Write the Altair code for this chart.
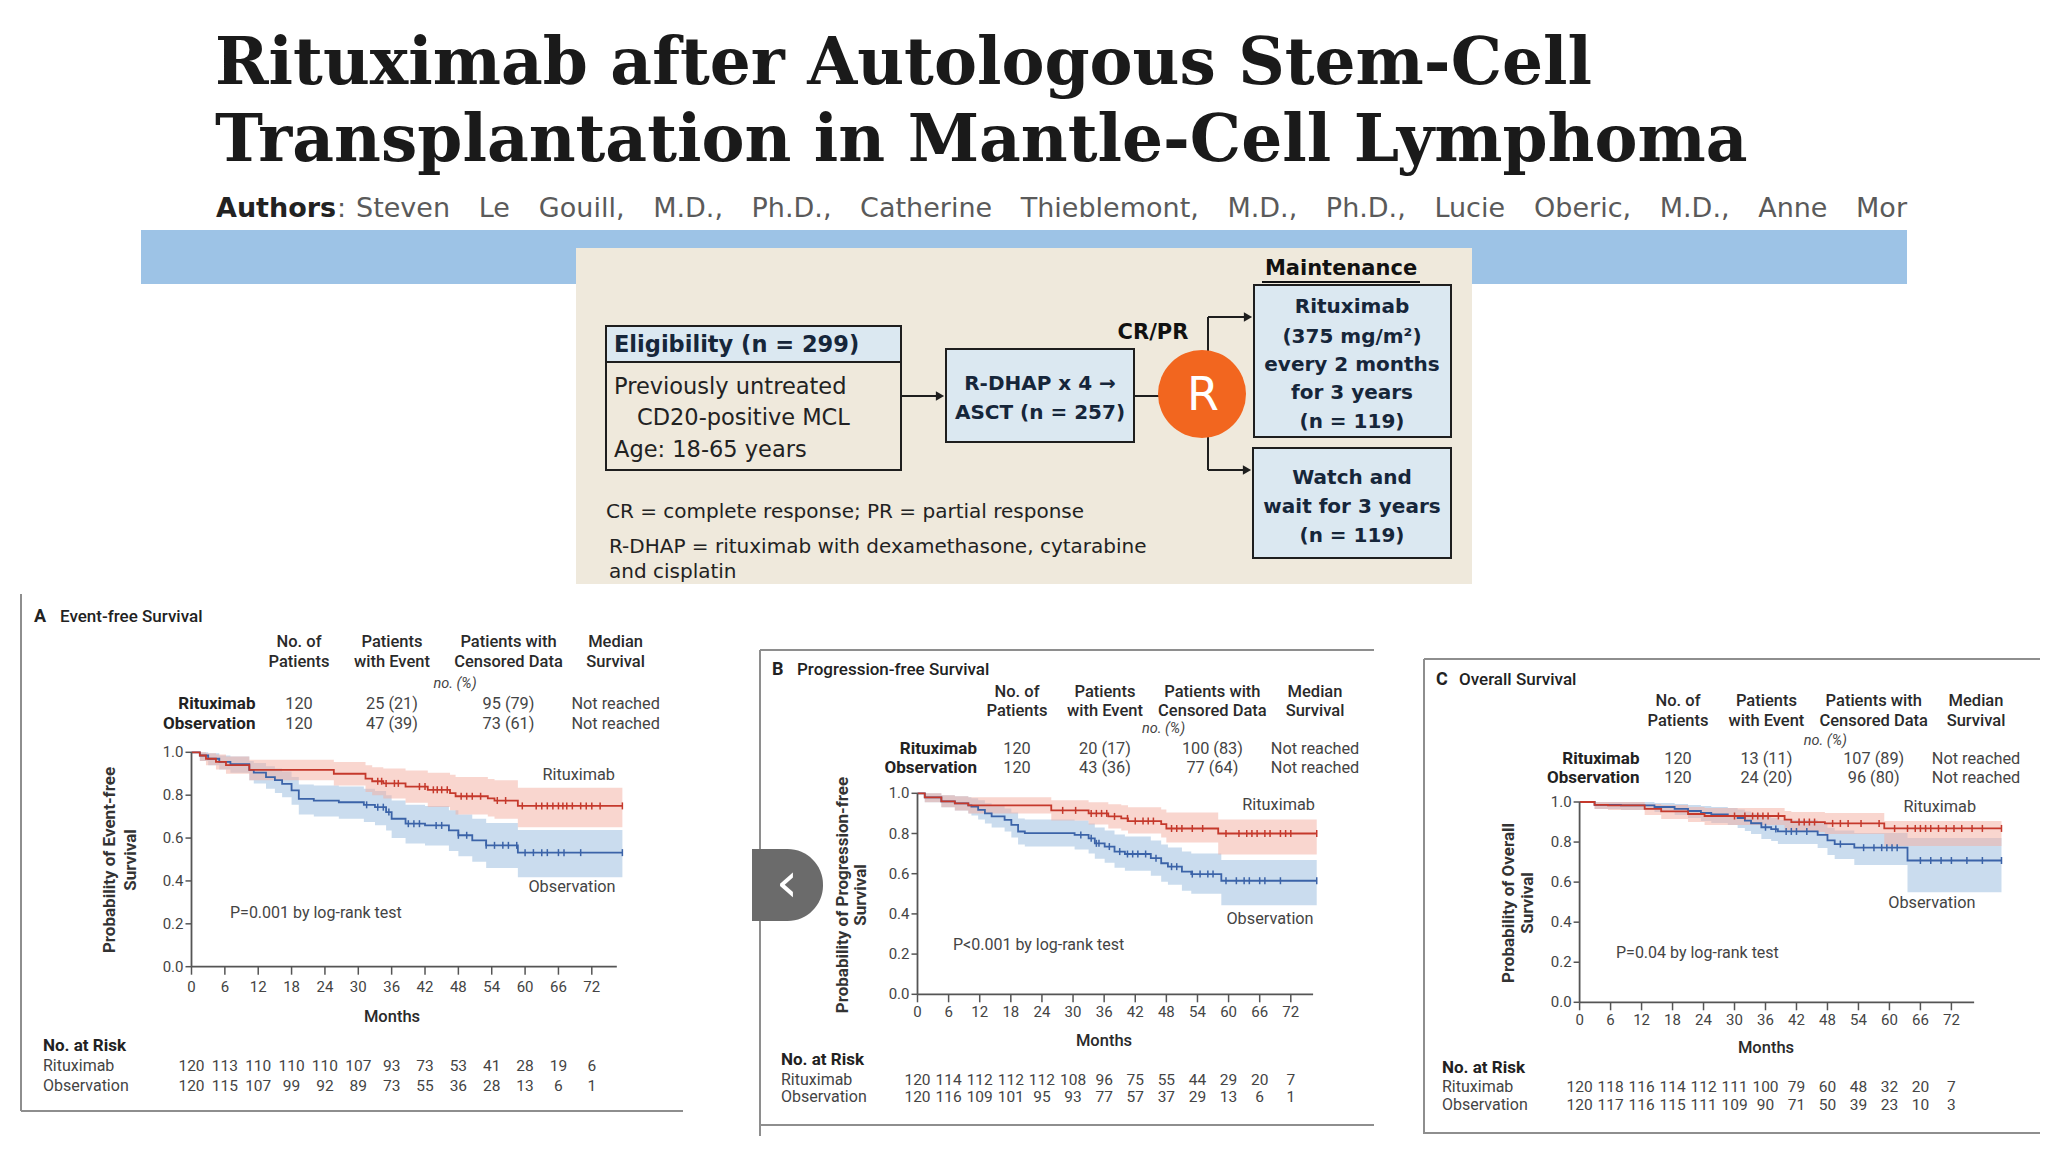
import altair as alt
import numpy as np
import pandas as pd

W, H = 2048, 1152

# ---------------------------------------------------------------- data
MONTHS = [0, 6, 12, 18, 24, 30, 36, 42, 48, 54, 60, 66, 72]
PROB_TICKS = [0.0, 0.2, 0.4, 0.6, 0.8, 1.0]
PROB_LABELS = ["0.0", "0.2", "0.4", "0.6", "0.8", "1.0"]
TABLE_HEADERS = [("No. of", "Patients"), ("Patients", "with Event"),
                 ("Patients with", "Censored Data"), ("Median", "Survival")]
GROUPS = ["Rituximab", "Observation"]
AUTHORS = "Steven Le Gouill, M.D., Ph.D., Catherine Thieblemont, M.D., Ph.D., Lucie Oberic, M.D., Anne Mor"

# Panel A - event-free survival
A_RIT_T = [0, 1.5, 2.6, 4.4, 6.2, 10.4, 25.6, 31.3, 32.5, 34.5, 38.5, 42.5, 46.5, 47.5, 53.3, 54.5, 58.7, 77.5]
A_RIT_S = [1.0, .985, .97, .955, .94, .918, .90, .877, .865, .855, .84, .825, .81, .795, .785, .775, .75, .75]
A_RIT_HI = [1.0, 1.0, .995, .99, .98, .965, .955, .94, .93, .925, .915, .905, .895, .885, .875, .87, .835, .835]
A_RIT_LO = [1.0, .96, .94, .92, .90, .87, .845, .815, .80, .785, .765, .745, .73, .71, .70, .69, .65, .65]
A_RIT_CENS = [33.5, 34.2, 35, 36.5, 37.2, 41, 42, 43.5, 44.2, 45, 46, 48.5, 49.5, 50.5, 52, 55, 56.5,
              59.5, 62, 63, 64, 65, 66, 66.8, 67.5, 68.5, 70, 71, 72, 73.5, 77.5]
A_OBS_T = [0, 1.5, 3, 5, 7, 10.4, 11.2, 13.4, 15, 16.3, 18, 19.3, 22, 26.5, 31, 33, 35, 36, 38.5, 42,
           46.3, 48, 50.5, 53, 58.7, 77.5]
A_OBS_S = [1.0, .985, .97, .955, .945, .918, .905, .884, .87, .853, .822, .783, .775, .767, .755, .744,
           .721, .69, .667, .659, .636, .613, .589, .566, .532, .532]
A_OBS_HI = [1.0, 1.0, .995, .985, .98, .96, .95, .935, .925, .91, .885, .85, .845, .84, .83, .82, .80,
            .775, .755, .75, .73, .71, .69, .67, .638, .638]
A_OBS_LO = [1.0, .96, .94, .92, .905, .87, .855, .83, .81, .79, .755, .71, .70, .69, .675, .66, .635,
            .60, .575, .565, .54, .515, .49, .46, .417, .417]
A_OBS_CENS = [31.5, 33.5, 34.5, 35.5, 39, 40, 41, 44, 45, 48, 49.5, 53, 54.5, 56, 57, 58.5, 60, 61.5,
              63, 64, 66, 67, 70, 77.5]
A_TABLE = [["120", "25 (21)", "95 (79)", "Not reached"], ["120", "47 (39)", "73 (61)", "Not reached"]]
A_RISK_RIT = [120, 113, 110, 110, 110, 107, 93, 73, 53, 41, 28, 19, 6]
A_RISK_OBS = [120, 115, 107, 99, 92, 89, 73, 55, 36, 28, 13, 6, 1]

# Panel B - progression-free survival
B_RIT_T = [0, 1.4, 4.6, 7.2, 9.8, 25.8, 33, 36.8, 39.3, 40.6, 47, 48, 58, 77]
B_RIT_S = [1.0, .98, .96, .95, .94, .915, .90, .885, .875, .862, .847, .825, .80, .80]
B_RIT_HI = [1.0, 1.0, .99, .985, .98, .965, .955, .945, .94, .93, .92, .905, .87, .87]
B_RIT_LO = [1.0, .955, .93, .915, .90, .865, .845, .825, .815, .80, .78, .755, .695, .695]
B_RIT_CENS = [28, 30.5, 33.5, 34.5, 35.5, 36.5, 38, 40.5, 42, 43.5, 44.5, 45.5, 49, 50, 51, 53, 55,
              59.5, 62, 63.5, 64.5, 65.5, 67, 68, 70, 71, 72, 77]
B_OBS_T = [0, 1.4, 4.6, 7.2, 9.8, 10.4, 11.7, 13, 14.3, 16.8, 18.1, 19.4, 20.7, 30.3, 33, 34.2, 36.1,
           38, 40, 45, 47, 48.3, 51, 52.8, 58.6, 77]
B_OBS_S = [1.0, .98, .96, .95, .94, .934, .918, .90, .885, .868, .843, .81, .802, .793, .776, .751,
           .735, .71, .698, .677, .652, .635, .61, .598, .565, .565]
B_OBS_HI = [1.0, 1.0, .99, .985, .98, .975, .965, .95, .94, .925, .905, .875, .87, .865, .85, .83,
            .815, .795, .785, .765, .745, .73, .71, .70, .668, .668]
B_OBS_LO = [1.0, .955, .93, .915, .90, .89, .87, .85, .83, .81, .78, .745, .735, .72, .70, .675, .655,
            .63, .615, .59, .56, .545, .515, .50, .443, .443]
B_OBS_CENS = [31.5, 33.5, 34.5, 35, 37, 39, 40.5, 41.5, 42.5, 44, 46, 49, 50, 53, 54.5, 56, 57, 59.5,
              61.5, 63, 64, 66, 67, 70, 77]
B_TABLE = [["120", "20 (17)", "100 (83)", "Not reached"], ["120", "43 (36)", "77 (64)", "Not reached"]]
B_RISK_RIT = [120, 114, 112, 112, 112, 108, 96, 75, 55, 44, 29, 20, 7]
B_RISK_OBS = [120, 116, 109, 101, 95, 93, 77, 57, 37, 29, 13, 6, 1]

# Panel C - overall survival
C_RIT_T = [0, 2.9, 5.5, 12.6, 15.8, 21, 24.2, 39.7, 41, 47.5, 59, 81.7]
C_RIT_S = [1.0, .986, .983, .966, .953, .94, .93, .912, .90, .893, .868, .868]
C_RIT_HI = [1.0, 1.0, 1.0, .99, .985, .975, .97, .955, .95, .945, .905, .905]
C_RIT_LO = [1.0, .965, .96, .935, .915, .90, .885, .86, .85, .84, .78, .78]
C_RIT_CENS = [30, 32, 33.5, 34.5, 35.5, 36.5, 38.5, 42.5, 43.5, 44.5, 45.5, 49, 50.5, 52, 54.5, 58,
              61, 63.5, 65, 66, 67, 68, 69.5, 71, 72.5, 74, 76, 78, 81.7]
C_OBS_T = [0, 2.9, 8, 14.5, 18.4, 21, 23.5, 25.5, 28.7, 30.6, 32, 33.2, 35.2, 37.1, 38.4, 46.1, 48,
           49.4, 53.2, 63.5, 81.7]
C_OBS_S = [1.0, .986, .983, .975, .966, .955, .945, .938, .931, .92, .907, .894, .874, .865, .853,
           .836, .808, .79, .772, .708, .708]
C_OBS_HI = [1.0, 1.0, 1.0, .995, .99, .985, .98, .975, .97, .962, .952, .942, .926, .92, .91, .895,
            .872, .858, .845, .82, .82]
C_OBS_LO = [1.0, .965, .96, .95, .935, .92, .905, .895, .885, .87, .855, .84, .815, .805, .79, .77,
            .735, .715, .685, .55, .55]
C_OBS_CENS = [36, 38, 40, 41, 42, 44, 50.5, 55, 57, 58.5, 59.5, 60.5, 61.5, 66, 68, 70, 72, 75, 78, 81.7]
C_TABLE = [["120", "13 (11)", "107 (89)", "Not reached"], ["120", "24 (20)", "96 (80)", "Not reached"]]
C_RISK_RIT = [120, 118, 116, 114, 112, 111, 100, 79, 60, 48, 32, 20, 7]
C_RISK_OBS = [120, 117, 116, 115, 111, 109, 90, 71, 50, 39, 23, 10, 3]

# ---------------------------------------------------------------- styles
RED, BLUE = "#c5392c", "#3b63a8"
RED_BAND, BLUE_BAND = "#f3ae9f", "#9fc0e0"
PF = "Roboto"
DF = "DejaVu Sans"
NAVY = "#16263a"
GREY_LINE = "#8e8e8e"

CX = alt.Scale(domain=[0, W], range=[0, W], nice=False, zero=False)
CY = alt.Scale(domain=[0, H], range=[0, H], nice=False, zero=False)


def ctext(rows, **mk):
    df = pd.DataFrame(rows, columns=["x", "y", "t"])
    return alt.Chart(df).mark_text(**mk).encode(
        x=alt.X("x:Q", scale=CX, axis=None),
        y=alt.Y("y:Q", scale=CY, axis=None),
        text="t:N")


def crect(rows, **mk):
    df = pd.DataFrame(rows, columns=["x", "y", "x2", "y2"])
    return alt.Chart(df).mark_rect(**mk).encode(
        x=alt.X("x:Q", scale=CX, axis=None), x2="x2:Q",
        y=alt.Y("y:Q", scale=CY, axis=None), y2="y2:Q")


def crule(rows, **mk):
    df = pd.DataFrame(rows, columns=["x", "y", "x2", "y2"])
    return alt.Chart(df).mark_rule(**mk).encode(
        x=alt.X("x:Q", scale=CX, axis=None), x2="x2:Q",
        y=alt.Y("y:Q", scale=CY, axis=None), y2="y2:Q")


def cpoint(rows, **mk):
    df = pd.DataFrame(rows, columns=["x", "y"])
    return alt.Chart(df).mark_point(**mk).encode(
        x=alt.X("x:Q", scale=CX, axis=None),
        y=alt.Y("y:Q", scale=CY, axis=None))


# approximate DejaVu Sans advance widths (em), used only to spread the author words evenly
_ADV = dict(zip("ABCDEFGHIJKLMNOPQRSTUVWXYZ",
                [.684, .686, .698, .770, .632, .575, .775, .752, .295, .295, .656, .557, .863, .748,
                 .787, .603, .787, .695, .635, .611, .732, .684, .989, .685, .611, .685]))
_ADV.update(zip("abcdefghijklmnopqrstuvwxyz",
                [.613, .635, .550, .635, .615, .352, .635, .634, .278, .278, .579, .278, .974, .634,
                 .612, .635, .635, .411, .521, .392, .634, .592, .818, .592, .592, .525]))
_ADV.update({".": .318, ",": .318, ":": .337})


def _wordwidth(w, size):
    return sum(_ADV.get(c, .6) for c in w) * size


layers = []

# ---------------------------------------------------------------- header
layers.append(ctext([(215, 84, "Rituximab after Autologous Stem-Cell"),
                     (215, 161, "Transplantation in Mantle-Cell Lymphoma")],
                    font="DejaVu Serif", fontWeight="bold", fontSize=64.5, align="left",
                    baseline="alphabetic", color="#1a1a1a"))
layers.append(ctext([(216, 217, "Authors")], font=DF, fontWeight="bold", fontSize=27,
                    align="left", baseline="alphabetic", color="#222222"))
# the slide sets the author names in a very wide typeface: spread the words evenly over the same span
_AS = 27
_words = AUTHORS.split(" ")
_start, _end = 356.0, 1907.0
_ws = [_wordwidth(w, _AS) for w in _words]
_gap = (_end - _start - sum(_ws)) / (len(_words) - 1)
_rows = [(337, 217, ":")]
_x = _start
for w, ww in zip(_words, _ws):
    _rows.append((_x, 217, w))
    _x += ww + _gap
layers.append(ctext(_rows, font=DF, fontSize=_AS, align="left", baseline="alphabetic", color="#5a5a5a"))
layers.append(crect([(141, 230, 1907, 284)], fill="#9dc3e6"))

# ---------------------------------------------------------------- study design diagram
layers.append(crect([(576, 248, 1472, 584)], fill="#efe9dc"))
layers.append(crect([(606, 326, 901, 362), (946, 349, 1134, 442), (1254, 285, 1451, 437),
                     (1253, 448, 1451, 558)], fill="#dbe8f1", stroke="#1e1e1e", strokeWidth=2))
layers.append(crect([(606, 326, 901, 470)], fillOpacity=0, stroke="#1e1e1e", strokeWidth=2))
layers.append(crule([(901, 396, 936, 396), (1134, 396, 1160, 396), (1208, 317, 1208, 352),
                     (1208, 317, 1244, 317), (1208, 436, 1208, 470), (1208, 470, 1243, 470)],
                    color="#1e1e1e", strokeWidth=2))
layers.append(cpoint([(940, 396), (1248, 317), (1247, 470)], shape="triangle-right", filled=True,
                     size=90, color="#1e1e1e", opacity=1))
layers.append(cpoint([(1202, 394)], shape="circle", filled=True, size=7744, color="#f2661f", opacity=1))
layers.append(ctext([(1203, 396, "R")], font=DF, fontSize=46, color="white", align="center"))
layers.append(crule([(1262, 282, 1420, 282)], color="#111111", strokeWidth=2))
layers.append(ctext([(1341, 269, "Maintenance"), (1153, 333, "CR/PR")], font=DF, fontWeight="bold",
                    fontSize=21, color="#111111", align="center"))
layers.append(ctext([(614, 345, "Eligibility (n = 299)")], font=DF, fontWeight="bold", fontSize=22.5,
                    color=NAVY, align="left"))
layers.append(ctext([(1040, 384, "R-DHAP x 4 \u2192"), (1040, 413, "ASCT (n = 257)"),
                     (1352, 307, "Rituximab"), (1352, 337, "(375 mg/m\u00b2)"),
                     (1352, 365, "every 2 months"), (1352, 393, "for 3 years"), (1352, 422, "(n = 119)"),
                     (1352, 478, "Watch and"), (1352, 507, "wait for 3 years"), (1352, 536, "(n = 119)")],
                    font=DF, fontWeight="bold", fontSize=20, color=NAVY, align="center"))
layers.append(ctext([(614, 387, "Previously untreated"), (637, 418, "CD20-positive MCL"),
                     (614, 450, "Age: 18-65 years")], font=DF, fontSize=22.5, color="#222222", align="left"))
layers.append(ctext([(606, 512, "CR = complete response; PR = partial response"),
                     (609, 547, "R-DHAP = rituximab with dexamethasone, cytarabine"),
                     (609, 572, "and cisplatin")], font=DF, fontSize=20, color="#222222", align="left"))

# ---------------------------------------------------------------- survival panels
PANELS = [
    dict(letter="A", title="Event-free Survival",
         x0=191.5, x72=591.8, y0=966.7, y1=752.3, axis_end=76.5,
         rit=(A_RIT_T, A_RIT_S, A_RIT_HI, A_RIT_LO, A_RIT_CENS),
         obs=(A_OBS_T, A_OBS_S, A_OBS_HI, A_OBS_LO, A_OBS_CENS),
         table=A_TABLE, risk=(A_RISK_RIT, A_RISK_OBS),
         ytitle=("Probability of Event-free", "Survival"), pval="P=0.001 by log-rank test",
         L=dict(letter=(34, 617), title=(60, 617), cols=[299, 392, 508.5, 615.6], head=[642, 662],
                nopct=(455, 684), rows=[704, 724], rowlab=255.5, yt=[(110, 860), (131, 860)],
                lab_rit=(578.7, 775), lab_obs=(572, 887), p=(230, 913), mlab=987, mtitle=(392, 1017),
                risk_x=43, risk_y=[1046, 1066, 1086])),
    dict(letter="B", title="Progression-free Survival",
         x0=917.5, x72=1290.8, y0=994.3, y1=793.3, axis_end=76.3,
         rit=(B_RIT_T, B_RIT_S, B_RIT_HI, B_RIT_LO, B_RIT_CENS),
         obs=(B_OBS_T, B_OBS_S, B_OBS_HI, B_OBS_LO, B_OBS_CENS),
         table=B_TABLE, risk=(B_RISK_RIT, B_RISK_OBS),
         ytitle=("Probability of Progression-free", "Survival"), pval="P<0.001 by log-rank test",
         L=dict(letter=(772, 670), title=(797, 670), cols=[1017, 1105, 1212.4, 1315], head=[692, 711],
                nopct=(1163.5, 729), rows=[749, 768], rowlab=977, yt=[(843, 895), (861, 895)],
                lab_rit=(1278.6, 805), lab_obs=(1270, 919), p=(953, 945), mlab=1012, mtitle=(1104, 1041),
                risk_x=781, risk_y=[1060, 1080, 1097])),
    dict(letter="C", title="Overall Survival",
         x0=1579.6, x72=1951.4, y0=1002.3, y1=802, axis_end=76.4,
         rit=(C_RIT_T, C_RIT_S, C_RIT_HI, C_RIT_LO, C_RIT_CENS),
         obs=(C_OBS_T, C_OBS_S, C_OBS_HI, C_OBS_LO, C_OBS_CENS),
         table=C_TABLE, risk=(C_RISK_RIT, C_RISK_OBS),
         ytitle=("Probability of Overall", "Survival"), pval="P=0.04 by log-rank test",
         L=dict(letter=(1436, 680), title=(1459, 680), cols=[1678, 1766.4, 1873.7, 1976], head=[701, 721],
                nopct=(1825.3, 741), rows=[759, 778], rowlab=1639.5, yt=[(1509, 903), (1528, 903)],
                lab_rit=(1939.8, 807), lab_obs=(1931.8, 903), p=(1616, 953), mlab=1020, mtitle=(1766, 1048),
                risk_x=1442, risk_y=[1068, 1087, 1105])),
]

# panel frames
layers.append(crule([(21, 594, 21, 1111), (21, 1111, 683, 1111),
                     (760, 650, 1374, 650), (760, 650, 760, 1136), (760, 1125, 1374, 1125),
                     (1424, 659, 2040, 659), (1424, 659, 1424, 1134), (1424, 1133, 2040, 1133)],
                    color=GREY_LINE, strokeWidth=2))


def panel_layers(P):
    PX = alt.Scale(domain=[0, 72], range=[P["x0"], P["x72"]], nice=False, zero=False)
    PY = alt.Scale(domain=[0, 1], range=[P["y0"], P["y1"]], nice=False, zero=False)
    L = P["L"]
    out = []
    # confidence bands
    for key, col, op in (("obs", BLUE_BAND, 0.55), ("rit", RED_BAND, 0.5)):
        t, s, hi, lo, _ = P[key]
        df = pd.DataFrame({"t": t, "hi": hi, "lo": lo})
        out.append(alt.Chart(df).mark_area(interpolate="step-after", color=col, opacity=op).encode(
            x=alt.X("t:Q", scale=PX, axis=None),
            y=alt.Y("hi:Q", scale=PY, axis=None), y2="lo:Q"))
    # survival curves and censoring marks
    for key, col in (("obs", BLUE), ("rit", RED)):
        t, s, hi, lo, cens = P[key]
        df = pd.DataFrame({"t": t, "s": s})
        out.append(alt.Chart(df).mark_line(interpolate="step-after", color=col, strokeWidth=1.8).encode(
            x=alt.X("t:Q", scale=PX, axis=None), y=alt.Y("s:Q", scale=PY, axis=None)))
        idx = np.searchsorted(np.array(t), np.array(cens), side="right") - 1
        cdf = pd.DataFrame({"t": cens, "s": np.array(s)[idx]})
        out.append(alt.Chart(cdf).mark_tick(orient="vertical", color=col, size=7, thickness=1.5,
                                            opacity=1).encode(
            x=alt.X("t:Q", scale=PX, axis=None), y=alt.Y("s:Q", scale=PY, axis=None)))
    # axes
    out.append(alt.Chart(pd.DataFrame({"a": [0], "b": [P["axis_end"]], "v": [0]})).mark_rule(
        color="#555555", strokeWidth=1.8).encode(
        x=alt.X("a:Q", scale=PX, axis=None), x2="b:Q", y=alt.Y("v:Q", scale=PY, axis=None)))
    out.append(alt.Chart(pd.DataFrame({"a": [0], "lo": [0], "hi": [1]})).mark_rule(
        color="#555555", strokeWidth=1.8).encode(
        x=alt.X("a:Q", scale=PX, axis=None), y=alt.Y("lo:Q", scale=PY, axis=None), y2="hi:Q"))
    out.append(alt.Chart(pd.DataFrame({"m": MONTHS, "v": [0] * len(MONTHS)})).mark_tick(
        orient="vertical", color="#555555", size=8, thickness=1.5, yOffset=4, opacity=1).encode(
        x=alt.X("m:Q", scale=PX, axis=None), y=alt.Y("v:Q", scale=PY, axis=None)))
    out.append(alt.Chart(pd.DataFrame({"p": PROB_TICKS, "v": [0] * len(PROB_TICKS)})).mark_tick(
        orient="horizontal", color="#555555", size=6, thickness=1.5, xOffset=-3, opacity=1).encode(
        x=alt.X("v:Q", scale=PX, axis=None), y=alt.Y("p:Q", scale=PY, axis=None)))
    out.append(alt.Chart(pd.DataFrame({"p": PROB_TICKS, "v": [0] * len(PROB_TICKS), "t": PROB_LABELS}))
               .mark_text(font=PF, fontSize=15, color="#444444", align="right", dx=-8).encode(
        x=alt.X("v:Q", scale=PX, axis=None), y=alt.Y("p:Q", scale=PY, axis=None), text="t:N"))
    out.append(alt.Chart(pd.DataFrame({"m": MONTHS, "r": [L["mlab"]] * len(MONTHS),
                                       "t": [str(m) for m in MONTHS]}))
               .mark_text(font=PF, fontSize=15, color="#444444", align="center").encode(
        x=alt.X("m:Q", scale=PX, axis=None), y=alt.Y("r:Q", scale=CY, axis=None), text="t:N"))
    # numbers at risk
    for vals, ry in zip(P["risk"], L["risk_y"][1:]):
        out.append(alt.Chart(pd.DataFrame({"m": MONTHS, "r": [ry] * len(MONTHS),
                                           "t": [str(v) for v in vals]}))
                   .mark_text(font=PF, fontSize=15.5, color="#444444", align="center").encode(
            x=alt.X("m:Q", scale=PX, axis=None), y=alt.Y("r:Q", scale=CY, axis=None), text="t:N"))
    # texts
    out.append(ctext([(L["letter"][0], L["letter"][1], P["letter"])], font=PF, fontWeight="bold",
                     fontSize=18, color="#222222", align="left"))
    out.append(ctext([(L["title"][0], L["title"][1], P["title"])], font=PF, fontWeight=500,
                     fontSize=17, color="#222222", align="left"))
    hdr = []
    for cx, (l1, l2) in zip(L["cols"], TABLE_HEADERS):
        hdr += [(cx, L["head"][0], l1), (cx, L["head"][1], l2)]
    hdr += [(L["mtitle"][0], L["mtitle"][1], "Months")]
    out.append(ctext(hdr, font=PF, fontWeight=500, fontSize=16.5, color="#2a2a2a", align="center"))
    out.append(ctext([(L["nopct"][0], L["nopct"][1], "no. (%)")], font=PF, fontStyle="italic",
                     fontSize=14.5, color="#444444", align="center"))
    out.append(ctext([(L["rowlab"], L["rows"][0], GROUPS[0]), (L["rowlab"], L["rows"][1], GROUPS[1])],
                     font=PF, fontWeight="bold", fontSize=17, color="#222222", align="right"))
    vals = []
    for ry, row in zip(L["rows"], P["table"]):
        for cx, v in zip(L["cols"], row):
            vals.append((cx, ry, v))
    vals += [(L["lab_rit"][0], L["lab_rit"][1], GROUPS[0]), (L["lab_obs"][0], L["lab_obs"][1], GROUPS[1])]
    out.append(ctext(vals, font=PF, fontSize=16.3, color="#444444", align="center"))
    out.append(ctext([(L["p"][0], L["p"][1], P["pval"]),
                      (L["risk_x"], L["risk_y"][1], GROUPS[0]), (L["risk_x"], L["risk_y"][2], GROUPS[1])],
                     font=PF, fontSize=16, color="#444444", align="left"))
    out.append(ctext([(L["risk_x"], L["risk_y"][0], "No. at Risk")], font=PF, fontWeight="bold",
                     fontSize=17, color="#222222", align="left"))
    out.append(ctext([(L["yt"][0][0], L["yt"][0][1], P["ytitle"][0]),
                      (L["yt"][1][0], L["yt"][1][1], P["ytitle"][1])],
                     font=PF, fontWeight="bold", fontSize=17, color="#333333", align="center", angle=270))
    return out


for P in PANELS:
    layers += panel_layers(P)

# slide navigation button over panel B
layers.append(crect([(752, 849, 823, 921)], fill="#6b6b6b", cornerRadiusTopRight=36,
                    cornerRadiusBottomRight=36))
layers.append(ctext([(787, 884, "\u2039")], font=DF, fontSize=56, color="white", align="center"))

chart = alt.layer(*layers).resolve_scale(x="independent", y="independent").properties(
    width=W, height=H, autosize=alt.AutoSizeParams(type="none"), padding=0, background="white"
).configure_view(stroke=None)

chart.save("out.html", embed_options={"renderer": "svg", "actions": False})
